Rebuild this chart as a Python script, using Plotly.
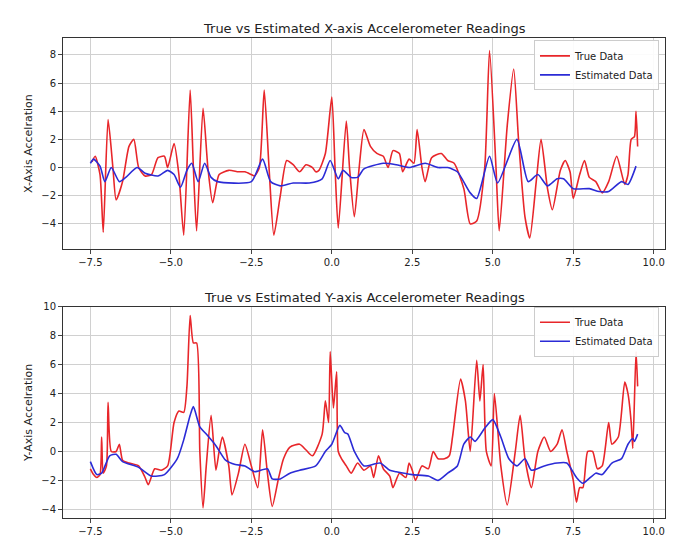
import plotly.graph_objects as go
from plotly.subplots import make_subplots

x_true_x = [-7.45,-7.35,-7.2,-7.1,-6.95,-6.8,-6.7,-6.5,-6.3,-6.15,-6.0,-5.8,-5.6,-5.4,-5.2,-5.1,-4.9,-4.75,-4.6,-4.4,-4.3,-4.2,-4.0,-3.85,-3.7,-3.5,-3.2,-2.9,-2.7,-2.5,-2.4,-2.25,-2.1,-1.95,-1.8,-1.6,-1.4,-1.2,-1.0,-0.8,-0.6,-0.5,-0.4,-0.2,0.0,0.1,0.2,0.45,0.55,0.7,0.85,1.0,1.2,1.4,1.6,1.75,1.9,2.1,2.2,2.4,2.55,2.65,2.8,2.9,3.1,3.4,3.6,3.8,4.1,4.3,4.5,4.75,4.9,5.1,5.2,5.45,5.65,5.8,6.0,6.15,6.35,6.5,6.7,6.85,7.1,7.25,7.4,7.5,7.7,7.85,8.0,8.2,8.4,8.6,8.85,9.1,9.2,9.3,9.4,9.45,9.5]
y_true_x = [0.4,0.8,-0.5,-4.6,3.4,0,-2.3,-1,1.5,2,0,-0.6,-0.5,0.7,0.8,0,1.7,-0.5,-4.8,5.5,0,-4.5,4.2,0,-2.5,-0.5,-0.2,-0.3,-0.3,-0.5,-0.6,0,5.5,0,-4.8,-2.0,0.5,0.2,-0.3,0.2,0,-0.3,-0.2,1.0,5.0,0,-4.3,3.3,0,-3.5,0,2.7,1.5,1.0,0.8,0,1.2,1.0,-0.3,0.6,0.3,2.7,0,-1.0,0.7,1.0,0.5,0.3,-1.5,-4.0,-3.8,0,8.3,0,-4.5,3,7,2,-3.5,-5,-1,2,-1.5,-3,-0.2,0.5,-0.3,-2.2,-0.5,0.5,-0.7,-1.0,-1.8,-1.0,0.8,-1.2,-0.5,2,2.2,4,1.5]
x_est_x = [-7.5,-7.4,-7.2,-7.05,-6.85,-6.6,-6.4,-6.05,-5.8,-5.4,-5.1,-4.9,-4.7,-4.5,-4.35,-4.15,-3.95,-3.75,-3.55,-2.5,-2.15,-1.9,-1.6,-1.2,-0.7,-0.3,-0.05,0.2,0.35,0.6,0.8,1.0,1.6,2.0,2.4,2.9,3.3,3.6,3.9,4.3,4.5,4.9,5.15,5.75,6.1,6.4,6.7,7.0,7.2,7.5,8.0,8.3,8.6,9.0,9.2,9.45]
y_est_x = [0.3,0.6,0.1,-1.0,0,-1.0,-0.7,0,-0.4,-0.6,-0.2,-0.5,-1.4,-0.2,0.3,-1.0,0.3,-0.7,-1.0,-1.0,0.6,-1.0,-1.3,-1.1,-1.1,-0.8,0.5,-0.8,-0.2,-0.7,-0.7,-0.1,0.3,0.2,0.0,0.3,0.0,0.0,-0.3,-1.8,-2.2,0.8,-1.1,2.0,-1.0,-0.5,-1.3,-0.8,-0.8,-1.5,-1.5,-1.7,-1.7,-1.0,-1.2,0.1]

x_true_y = [-7.5,-7.4,-7.3,-7.2,-7.15,-7.1,-7.0,-6.95,-6.85,-6.7,-6.6,-6.5,-6.3,-6.0,-5.8,-5.7,-5.5,-5.3,-5.1,-4.9,-4.75,-4.6,-4.5,-4.4,-4.3,-4.2,-4.1,-4.0,-3.9,-3.75,-3.6,-3.5,-3.4,-3.2,-3.1,-2.9,-2.7,-2.5,-2.3,-2.15,-2.0,-1.85,-1.65,-1.5,-1.3,-1.0,-0.8,-0.6,-0.3,-0.2,-0.1,-0.05,0.05,0.15,0.2,0.3,0.45,0.6,0.8,1.0,1.2,1.3,1.45,1.6,1.8,1.9,2.1,2.3,2.4,2.5,2.6,2.8,3.0,3.15,3.3,3.5,3.65,3.75,4.0,4.15,4.3,4.5,4.6,4.7,4.8,4.95,5.05,5.25,5.45,5.7,5.85,6.0,6.2,6.4,6.6,6.8,7.0,7.15,7.3,7.5,7.6,7.7,7.8,7.95,8.1,8.25,8.4,8.6,8.7,8.9,9.1,9.2,9.3,9.35,9.45,9.5]
y_true_y = [-1.2,-1.6,-1.8,-1.6,1.0,-1.5,-1.0,3.4,0,0,0.5,-0.6,-0.8,-1.0,-1.8,-2.3,-1.2,-1.3,-1.0,2.0,2.8,2.7,4.5,9.4,7.5,7.5,0,-3.9,-1,2.5,-1.3,0,1.0,-1.0,-3,-1.5,0.5,-1.0,-2.5,1.5,-1.5,-3.8,-1.8,-0.5,0.3,0.5,0.1,-0.3,1.2,3.5,2.0,6.9,3.0,5.5,0.0,-0.5,-1.0,-1.5,-0.8,-1.3,-1.0,-1.8,-0.3,-1.2,-1.7,-2.5,-1.5,-1.8,-0.8,-1.3,-2.0,-1.0,-1.2,0,-0.5,-0.5,-0.3,1.0,5.0,3.5,0,6.3,3.5,6.0,0,-1.0,4.0,-1.0,-3.7,0,2.5,-0.5,-2.5,0,1.0,0,0.5,1.5,0,-2.0,-3.5,-2.5,-2.5,0,0.0,-1.2,-1.0,2.0,0.5,1.0,4.8,4.0,2.0,0.2,6.9,4.5]
x_est_y = [-7.5,-7.3,-7.15,-6.9,-6.7,-6.5,-6.0,-5.6,-5.2,-4.8,-4.6,-4.4,-4.3,-4.1,-3.9,-3.6,-3.3,-3.0,-2.7,-2.4,-2.0,-1.85,-1.6,-1.3,-1.0,-0.5,-0.2,0.0,0.25,0.4,0.5,0.7,1.0,1.5,1.8,2.0,2.5,3.0,3.3,3.6,3.9,4.1,4.3,4.45,4.75,5.0,5.25,5.5,5.75,6.0,6.2,6.6,7.0,7.3,7.6,7.8,8.2,8.4,8.7,9.0,9.2,9.35,9.4,9.5]
y_est_y = [-0.7,-1.6,-1.5,-0.3,-0.2,-0.7,-1.1,-1.7,-1.6,-0.5,0.8,2.5,3.1,1.7,1.2,0.4,-0.6,-0.9,-1.0,-1.4,-1.2,-1.9,-1.9,-1.5,-1.3,-1.0,0,0.5,1.8,1.3,1.2,0,-1.0,-0.8,-1.3,-1.4,-1.6,-1.7,-2.0,-1.5,-1.0,0.5,1.0,0.7,1.6,2.2,1.0,-0.5,-1.0,-0.5,-1.3,-1.0,-0.8,-0.8,-1.8,-2.2,-1.5,-1.6,-0.8,-0.5,0.5,0.9,0.7,1.2]

x_ticks = [-7.5, -5.0, -2.5, 0.0, 2.5, 5.0, 7.5, 10.0]

fig = make_subplots(rows=2, cols=1, vertical_spacing=0.12,
                    subplot_titles=("True vs Estimated X-axis Accelerometer Readings",
                                    "True vs Estimated Y-axis Accelerometer Readings"))
line = dict(shape="spline", smoothing=0.6, width=1.6)
fig.add_trace(go.Scatter(x=x_true_x, y=y_true_x, mode="lines", name="True Data", line=dict(color="#e8262a", **line), legend="legend"), 1, 1)
fig.add_trace(go.Scatter(x=x_est_x, y=y_est_x, mode="lines", name="Estimated Data", line=dict(color="#2b2bd6", **line), legend="legend"), 1, 1)
fig.add_trace(go.Scatter(x=x_true_y, y=y_true_y, mode="lines", name="True Data", line=dict(color="#e8262a", **line), legend="legend2"), 2, 1)
fig.add_trace(go.Scatter(x=x_est_y, y=y_est_y, mode="lines", name="Estimated Data", line=dict(color="#2b2bd6", **line), legend="legend2"), 2, 1)

ax = dict(showgrid=True, gridcolor="#d0d0d0", showline=True, mirror=True, linecolor="#333",
          ticks="outside", ticklen=4, zeroline=False, tickfont=dict(size=10, color="#222"))
for r in (1, 2):
    fig.update_xaxes(range=[-8.35, 10.35], tickvals=x_ticks, tickformat=".1f", row=r, col=1, **ax)
fig.update_yaxes(range=[-5.8, 9.2], tickvals=[-4,-2,0,2,4,6,8], title_text="X-Axis Accelration", row=1, col=1, **ax)
fig.update_yaxes(range=[-4.6, 10.0], tickvals=[-4,-2,0,2,4,6,8,10], title_text="Y-Axis Accelration", row=2, col=1, **ax)
fig.update_yaxes(title_font=dict(size=11, color="#222"), title_standoff=6)
for a in fig.layout.annotations:
    a.font = dict(size=13, color="#222")

leg = dict(xanchor="right", yanchor="top", bgcolor="rgba(255,255,255,0.9)", bordercolor="#ccc",
           borderwidth=1, font=dict(size=10, color="#222"), tracegroupgap=0)
fig.update_layout(width=680, height=546, plot_bgcolor="white", paper_bgcolor="white",
                  font=dict(family="DejaVu Sans"), margin=dict(l=55, r=23, t=30, b=36),
                  legend=dict(x=0.99, y=0.995, **leg), legend2=dict(x=0.99, y=0.44, **leg))
fig.update_layout(margin=dict(l=55, r=23, t=30, b=36))
fig.write_html("out.html")
